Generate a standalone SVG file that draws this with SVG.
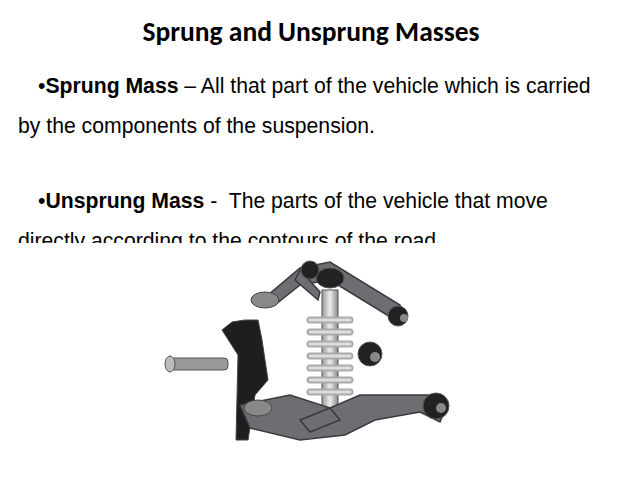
<svg xmlns="http://www.w3.org/2000/svg" width="638" height="478" viewBox="0 0 638 478">
<style>
.t{font-family:"Liberation Sans",Arial,sans-serif;font-size:21.2px;fill:#000}
.arm{fill:#6e6e72;stroke:#3a3a3e;stroke-width:1.5}
.bush{fill:#222;stroke:#555;stroke-width:1}
</style>
<defs><clipPath id="c"><rect x="0" y="0" width="638" height="243"/></clipPath>
<linearGradient id="g" x1="0" y1="0" x2="1" y2="0"><stop offset="0" stop-color="#999"/><stop offset="0.5" stop-color="#eee"/><stop offset="1" stop-color="#888"/></linearGradient></defs>
<rect width="638" height="478" fill="#fff"/>
<g id="title"><text x="311" y="41" text-anchor="middle" font-family="Carlito,'Open Sans',sans-serif" font-weight="bold" font-size="27.5">Sprung and Unsprung Masses</text></g>
<g id="body" clip-path="url(#c)">
<text class="t" x="38" y="93">•<tspan font-weight="bold">Sprung Mass</tspan> – All that part of the vehicle which is carried</text>
<text class="t" x="18" y="133">by the components of the suspension.</text>
<text class="t" x="38" y="208">•<tspan font-weight="bold">Unsprung Mass</tspan> -&#160; The parts of the vehicle that move</text>
<text class="t" x="18" y="248">directly according to the contours of the road.</text>
</g>
<g id="suspension">
<path class="arm" d="M262,300 L300,268 L330,262 L400,305 L405,322 L392,318 L330,280 L300,285 L275,305 Z"/>
<path class="arm" d="M300,270 L320,292 L318,300 L295,280 Z"/>
<rect x="322" y="290" width="16" height="120" fill="url(#g)" stroke="#555"/>
<path d="M310,320 h40 M310,332 h40 M310,344 h40 M310,356 h40 M310,368 h40 M310,380 h40 M310,392 h40" stroke="#aaa" stroke-width="7" stroke-linecap="round"/>
<path d="M310,320 h40 M310,332 h40 M310,344 h40 M310,356 h40 M310,368 h40 M310,380 h40 M310,392 h40" stroke="#ddd" stroke-width="3" stroke-linecap="round"/>
<ellipse cx="330" cy="278" rx="14" ry="10" class="bush"/>
<path d="M245,320 L232,322 L222,330 L238,355 L236,440 L248,440 L255,395 L268,380 L262,340 L258,320 Z" fill="#1e1e20" stroke="#444"/>
<rect x="168" y="358" width="60" height="12" rx="4" fill="#999" stroke="#555"/>
<ellipse cx="170" cy="364" rx="5" ry="8" fill="#bbb" stroke="#555"/>
<path class="arm" d="M240,405 L290,395 L330,408 L360,395 L430,395 L445,410 L440,422 L420,412 L375,420 L345,435 L300,440 L250,428 Z"/>
<path class="arm" d="M300,420 L330,408 L340,420 L310,432 Z" fill="#555"/>
<circle cx="436" cy="406" r="13" class="bush"/><circle cx="441" cy="408" r="5" fill="#888"/>
<circle cx="370" cy="354" r="12" class="bush"/><circle cx="375" cy="357" r="5" fill="#888"/>
<circle cx="398" cy="316" r="10" class="bush"/><circle cx="404" cy="318" r="4" fill="#888"/>
<circle cx="310" cy="270" r="9" class="bush"/>
<ellipse cx="265" cy="300" rx="14" ry="8" fill="#888" stroke="#444"/>
<ellipse cx="258" cy="408" rx="14" ry="8" fill="#888" stroke="#444"/>
</g>
</svg>
